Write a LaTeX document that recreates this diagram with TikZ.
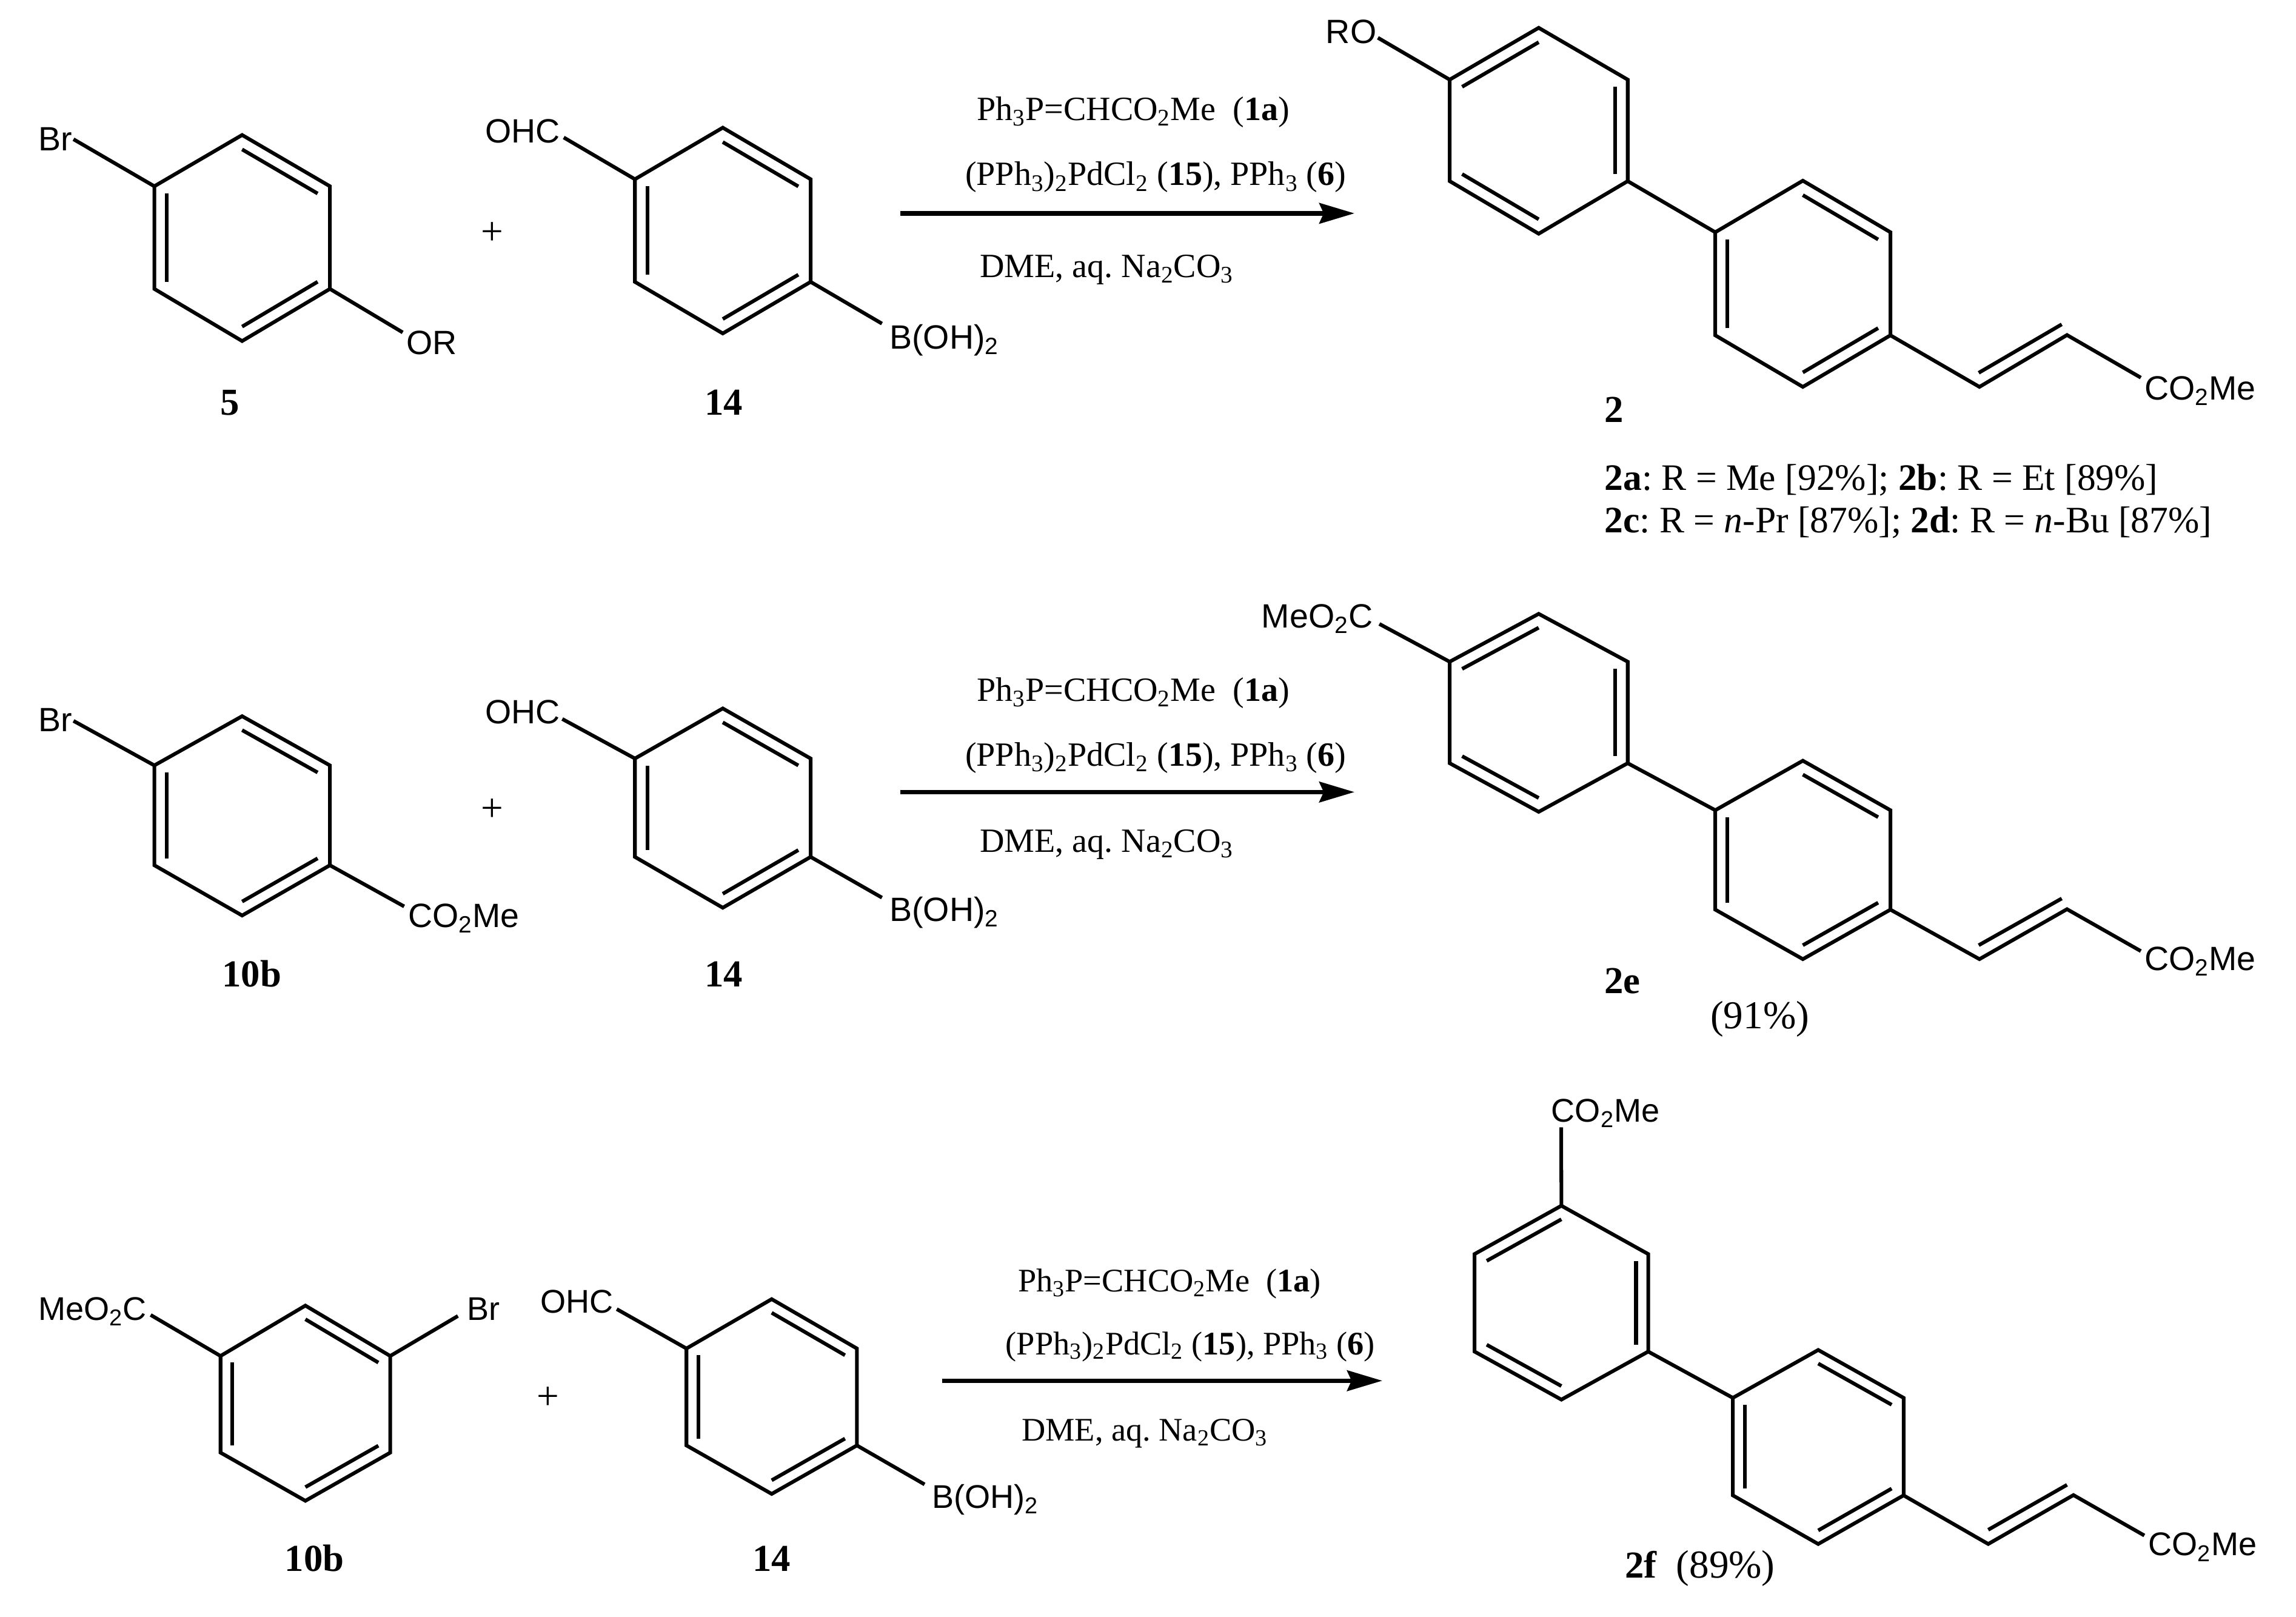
\documentclass[tikz,border=0pt]{standalone}
\usepackage{fontspec}
\setmainfont{Liberation Serif}
\setsansfont{Liberation Sans}
\usetikzlibrary{calc,arrows.meta}
\frenchspacing

\tikzset{
    bond/.style={line width=2.5pt},
    rxnarrow/.style={line width=3pt,-{Stealth[length=24pt,width=14pt,inset=3pt]}},
    atom/.style={inner sep=0pt,anchor=base west,font=\sffamily\fontsize{23}{27}\selectfont},
    atomsmall/.style={inner sep=0pt,anchor=base west,font=\sffamily\fontsize{22.4}{27}\selectfont},
    reagent/.style={inner sep=0pt,anchor=base west,font=\fontsize{23.2}{27}\selectfont},
    reagentsmall/.style={inner sep=0pt,anchor=base west,font=\fontsize{22.5}{27}\selectfont},
    note/.style={inner sep=0pt,anchor=base west,font=\fontsize{25.5}{30}\selectfont},
    yieldnote/.style={inner sep=0pt,anchor=base west,font=\fontsize{27}{30}\selectfont},
    cpd/.style={inner sep=0pt,anchor=base,font=\bfseries\fontsize{26}{30}\selectfont},
    cpdleft/.style={inner sep=0pt,anchor=base west,font=\bfseries\fontsize{26}{30}\selectfont},
    plus/.style={inner sep=0pt,font=\fontsize{27}{30}\selectfont},
}

% ring: name, left x, right x, then the y of its four levels
\newcommand{\ring}[7]{
    \coordinate (#1c) at ({(#2+#3)/2},{(#4+#7)/2});
    \coordinate (#1t) at ({(#2+#3)/2},#4);
    \coordinate (#1ur) at (#3,#5);
    \coordinate (#1lr) at (#3,#6);
    \coordinate (#1b) at ({(#2+#3)/2},#7);
    \coordinate (#1ll) at (#2,#6);
    \coordinate (#1ul) at (#2,#5);
    \draw[bond] (#1t) -- (#1ur) -- (#1lr) -- (#1b) -- (#1ll) -- (#1ul) -- cycle;
}
\newcommand{\dbl}[3]{\draw[bond] ($(#1#2)!.14!(#1c)$) -- ($(#1#3)!.14!(#1c)$);}
\newcommand{\dblA}[1]{\dbl{#1}{t}{ur}\dbl{#1}{ul}{ll}\dbl{#1}{b}{lr}}
\newcommand{\dblB}[1]{\dbl{#1}{t}{ul}\dbl{#1}{ur}{lr}\dbl{#1}{b}{ll}}
\newcommand{\sbs}[1]{\textsubscript{#1}}

\begin{document}
\begin{tikzpicture}[x=1pt,y=-1pt]
    \useasboundingbox (0,0) rectangle (1568,1104.2);

    % first scheme
    \ring{a}{105.4}{225.3}{92.2}{127.2}{197.3}{232.9}
    \dblA{a}
    \node[atom] (abr) at (26,102.7) {Br};
    \node[atom] (aor) at (277.5,242) {OR};
    \coordinate (abrend) at (50.2,95.1);
    \coordinate (aorend) at (275,227);
    \draw[bond] (aul) -- (abrend);
    \draw[bond] (alr) -- (aorend);
    \node[cpd] (acpd) at (157,283.3) {5};

    \node[plus] (aplus) at (336.3,159.5) {+};

    \ring{b}{433.6}{553.6}{87.2}{122.4}{192.5}{227.7}
    \dblA{b}
    \node[atom] (bohc) at (331.2,97.7) {OHC};
    \node[atom] (bboh) at (607.3,238.2) {B(OH)\sbs{2}};
    \coordinate (bohcend) at (385,93.9);
    \coordinate (bbohend) at (602.3,221);
    \draw[bond] (bul) -- (bohcend);
    \draw[bond] (blr) -- (bbohend);
    \node[cpd] (bcpd) at (494.3,283.3) {14};

    \coordinate (astart) at (614.8,145.7);
    \coordinate (atip) at (925,145.7);
    \draw[rxnarrow] (astart) -- (atip);
    \node[reagent] (ayl) at (667,82) {Ph\sbs{3}P=CHCO\sbs{2}Me\ \ (\textbf{1a})};
    \node[reagent] (apd) at (659,126.7) {(PPh\sbs{3})\sbs{2}PdCl\sbs{2} (\textbf{15}), PPh\sbs{3} (\textbf{6})};
    \node[reagent] (adme) at (669,189.4) {DME, aq. Na\sbs{2}CO\sbs{3}};

    \ring{c}{990}{1111.6}{19}{54.4}{123.7}{159.6}
    \dblB{c}
    \ring{d}{1171.4}{1291}{123.4}{158.6}{229}{264.2}
    \dblA{d}
    \draw[bond] (clr) -- (dul);
    \node[atom] (cro) at (905.3,29.6) {RO};
    \coordinate (croend) at (941,25.8);
    \draw[bond] (cul) -- (croend);
    \coordinate (d1) at (1351.8,264.2);
    \coordinate (d2) at (1411.6,228.8);
    \coordinate (d3) at (1351.3,254.6);
    \coordinate (d4) at (1408,221.5);
    \coordinate (d5) at (1462,257.9);
    \draw[bond] (dlr) -- (d1) -- (d2) -- (d5);
    \draw[bond] (d3) -- (d4);
    \node[atom] (dest) at (1464.4,273) {CO\sbs{2}Me};
    \node[cpdleft] (dcpd) at (1095.6,288.5) {2};
    \node[note] (dyield) at (1095.6,334.9) {\textbf{2a}: R = Me [92\%]; \textbf{2b}: R = Et [89\%]};
    \node[note] (dyieldb) at (1095.6,363.8) {\textbf{2c}: R = \textit{n}-Pr [87\%]; \textbf{2d}: R = \textit{n}-Bu [87\%]};

    % second scheme
    \ring{e}{105.4}{225.3}{489.1}{522.7}{590.9}{625.2}
    \dblA{e}
    \node[atom] (ebr) at (26,499.4) {Br};
    \node[atom] (eest) at (278.5,633.2) {CO\sbs{2}Me};
    \coordinate (ebrend) at (50.2,492.3);
    \coordinate (eestend) at (276,619);
    \draw[bond] (eul) -- (ebrend);
    \draw[bond] (elr) -- (eestend);
    \node[cpd] (ecpd) at (172,673.8) {10b};

    \node[plus] (eplus) at (336.3,553.4) {+};

    \ring{f}{433.6}{553.6}{483.8}{518}{585.2}{619.9}
    \dblA{f}
    \node[atom] (fohc) at (331.2,494.1) {OHC};
    \node[atom] (fboh) at (607.3,629.3) {B(OH)\sbs{2}};
    \coordinate (fohcend) at (384,491);
    \coordinate (fbohend) at (602.3,613);
    \draw[bond] (ful) -- (fohcend);
    \draw[bond] (flr) -- (fbohend);
    \node[cpd] (fcpd) at (494.3,673.8) {14};

    \coordinate (estart) at (614.8,540.9);
    \coordinate (etip) at (925,540.9);
    \draw[rxnarrow] (estart) -- (etip);
    \node[reagent] (eyl) at (667,479) {Ph\sbs{3}P=CHCO\sbs{2}Me\ \ (\textbf{1a})};
    \node[reagent] (epd) at (659,523) {(PPh\sbs{3})\sbs{2}PdCl\sbs{2} (\textbf{15}), PPh\sbs{3} (\textbf{6})};
    \node[reagent] (edme) at (669,582) {DME, aq. Na\sbs{2}CO\sbs{3}};

    \ring{g}{990}{1111.6}{419.2}{451.9}{521.2}{554.4}
    \dblB{g}
    \ring{h}{1171.4}{1291}{519.5}{553.3}{621.2}{655}
    \dblA{h}
    \draw[bond] (glr) -- (hul);
    \node[atom] (gest) at (861.4,428.9) {MeO\sbs{2}C};
    \coordinate (gestend) at (942,426.1);
    \draw[bond] (gul) -- (gestend);
    \coordinate (h1) at (1351.8,655);
    \coordinate (h2) at (1411.6,620.9);
    \coordinate (h3) at (1351.3,645.5);
    \coordinate (h4) at (1408,613.6);
    \coordinate (h5) at (1462,649.5);
    \draw[bond] (hlr) -- (h1) -- (h2) -- (h5);
    \draw[bond] (h3) -- (h4);
    \node[atom] (hest) at (1464.4,662.8) {CO\sbs{2}Me};
    \node[cpdleft] (hcpd) at (1095.6,678.6) {2e};
    \node[yieldnote] (hyield) at (1167.9,702.3) {(91\%)};

    % third scheme
    \ring{i}{150.6}{266.5}{891.6}{926}{992}{1024.9}
    \dblA{i}
    \node[atomsmall] (iest) at (26,901.5) {MeO\sbs{2}C};
    \node[atomsmall] (ibr) at (318.7,901.5) {Br};
    \coordinate (iestend) at (102.9,898);
    \coordinate (ibrend) at (312.7,898.7);
    \draw[bond] (iul) -- (iestend);
    \draw[bond] (iur) -- (ibrend);
    \node[cpd] (icpd) at (214.8,1072.8) {10b};

    \node[plus] (iplus) at (374.4,954.8) {+};

    \ring{j}{468.8}{585.2}{887.2}{920.9}{987.1}{1020.2}
    \dblA{j}
    \node[atomsmall] (johc) at (368.8,896.8) {OHC};
    \node[atomsmall] (jboh) at (636.4,1029.8) {B(OH)\sbs{2}};
    \coordinate (johcend) at (421.2,894);
    \coordinate (jbohend) at (631.4,1013.7);
    \draw[bond] (jul) -- (johcend);
    \draw[bond] (jlr) -- (jbohend);
    \node[cpd] (jcpd) at (527,1072.8) {14};

    \coordinate (istart) at (643.4,942.9);
    \coordinate (itip) at (944,942.9);
    \draw[rxnarrow] (istart) -- (itip);
    \node[reagentsmall] (iyl) at (695,882) {Ph\sbs{3}P=CHCO\sbs{2}Me\ \ (\textbf{1a})};
    \node[reagentsmall] (ipd) at (686.6,925) {(PPh\sbs{3})\sbs{2}PdCl\sbs{2} (\textbf{15}), PPh\sbs{3} (\textbf{6})};
    \node[reagentsmall] (idme) at (697.6,983.9) {DME, aq. Na\sbs{2}CO\sbs{3}};

    \ring{k}{1007}{1125.6}{823.4}{856.4}{923}{955.8}
    \dblB{k}
    \ring{l}{1183.4}{1300}{921.9}{954.6}{1021.2}{1054.4}
    \dblA{l}
    \draw[bond] (klr) -- (lul);
    \node[atomsmall] (kest) at (1059.3,766.2) {CO\sbs{2}Me};
    \coordinate (kestend) at (1066.2,769.9);
    \draw[bond] (kt) -- (kestend);
    \coordinate (l1) at (1357.8,1054.4);
    \coordinate (l2) at (1416,1021);
    \coordinate (l3) at (1357.8,1044.7);
    \coordinate (l4) at (1411.6,1014);
    \coordinate (l5) at (1464.4,1048.6);
    \draw[bond] (llr) -- (l1) -- (l2) -- (l5);
    \draw[bond] (l3) -- (l4);
    \node[atomsmall] (lest) at (1467,1062.4) {CO\sbs{2}Me};
    \node[cpdleft] (lcpd) at (1109.6,1077.6) {2f};
    \node[yieldnote] (lyield) at (1144.5,1077.6) {(89\%)};
\end{tikzpicture}
\end{document}
